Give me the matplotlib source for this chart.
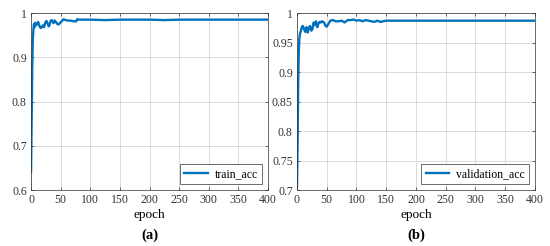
import matplotlib.pyplot as plt

# train accuracy (a)
train_epoch = [0, 1, 2, 3, 4, 5, 6, 7, 8, 10, 12, 13, 15, 17, 20, 22, 24, 26, 28, 30, 31,
               33, 35, 38, 40, 42, 44, 46, 48, 50, 53, 55, 58, 62, 66, 70, 74, 76, 78, 80,
               90, 100, 125, 150, 175, 200, 225, 250, 275, 300, 325, 350, 375, 400]
train_acc = [0.641, 0.75, 0.87, 0.94, 0.962, 0.975, 0.968, 0.978, 0.972, 0.974, 0.98, 0.976,
             0.968, 0.966, 0.972, 0.968, 0.978, 0.982, 0.976, 0.97, 0.972, 0.982, 0.984,
             0.977, 0.983, 0.98, 0.976, 0.974, 0.976, 0.979, 0.983, 0.986, 0.984, 0.983,
             0.983, 0.982, 0.981, 0.981, 0.986, 0.985, 0.985, 0.985, 0.984, 0.985, 0.985,
             0.985, 0.984, 0.985, 0.985, 0.985, 0.985, 0.985, 0.985, 0.985]

# validation accuracy (b)
val_epoch = [0, 1, 2, 3, 4, 5, 6, 8, 10, 12, 14, 16, 18, 20, 22, 24, 26, 28, 30, 32, 34,
             36, 38, 40, 42, 44, 46, 48, 50, 53, 56, 60, 65, 70, 75, 80, 85, 90, 95, 100,
             105, 110, 115, 120, 125, 130, 135, 140, 150, 175, 200, 250, 300, 350, 400]
val_acc = [0.706, 0.78, 0.88, 0.935, 0.958, 0.965, 0.968, 0.976, 0.978, 0.972, 0.968, 0.976,
           0.967, 0.975, 0.978, 0.97, 0.973, 0.984, 0.98, 0.986, 0.976, 0.982, 0.985,
           0.984, 0.986, 0.985, 0.983, 0.978, 0.977, 0.982, 0.987, 0.988, 0.986, 0.986,
           0.987, 0.984, 0.988, 0.988, 0.989, 0.987, 0.988, 0.986, 0.988, 0.987, 0.986,
           0.985, 0.987, 0.985, 0.987, 0.987, 0.987, 0.987, 0.987, 0.987, 0.987]

blue = '#0072BD'
plt.rcParams['font.family'] = ['Liberation Serif', 'DejaVu Serif']

fig = plt.figure(figsize=(5.5, 2.46), dpi=100)

panels = [
    ([0.0564, 0.2276, 0.4309, 0.7195], train_epoch, train_acc, 'train_acc',
     (0.6, 1.0), [0.6, 0.7, 0.8, 0.9, 1.0], ['0.6', '0.7', '0.8', '0.9', '1'], 'a'),
    ([0.5400, 0.2276, 0.4327, 0.7195], val_epoch, val_acc, 'validation_acc',
     (0.7, 1.0), [0.7, 0.75, 0.8, 0.85, 0.9, 0.95, 1.0],
     ['0.7', '0.75', '0.8', '0.85', '0.9', '0.95', '1'], 'b'),
]

for pos, ep, acc, name, ylim, yt, ytl, letter in panels:
    ax = fig.add_axes(pos)
    ax.plot(ep, acc, color=blue, lw=1.7, label=name)
    ax.set_xlim(0, 400)
    ax.set_ylim(*ylim)
    ax.set_xticks(range(0, 401, 50))
    ax.set_yticks(yt)
    ax.set_yticklabels(ytl)
    ax.tick_params(labelsize=8.5, direction='in', length=2, width=0.5,
                   colors='#333333', pad=3, top=True, right=True)
    ax.grid(True, color='#d4d4d4', lw=0.6)
    for s in ax.spines.values():
        s.set_color('#333333')
        s.set_linewidth(0.5)
    ax.set_xlabel('epoch', fontsize=9.5, labelpad=2)
    leg = ax.legend(loc='lower right', fontsize=8.5, fancybox=False,
                    edgecolor='#333333', framealpha=1, handlelength=2.0,
                    handletextpad=0.6, borderaxespad=0.5, borderpad=0.35)
    leg.get_frame().set_linewidth(0.5)
    fig.text(pos[0] + pos[2] / 2, 0.03, '(' + letter + ')', ha='center',
             fontsize=10.5, fontweight='bold')

fig.savefig('out.png', dpi=100)
